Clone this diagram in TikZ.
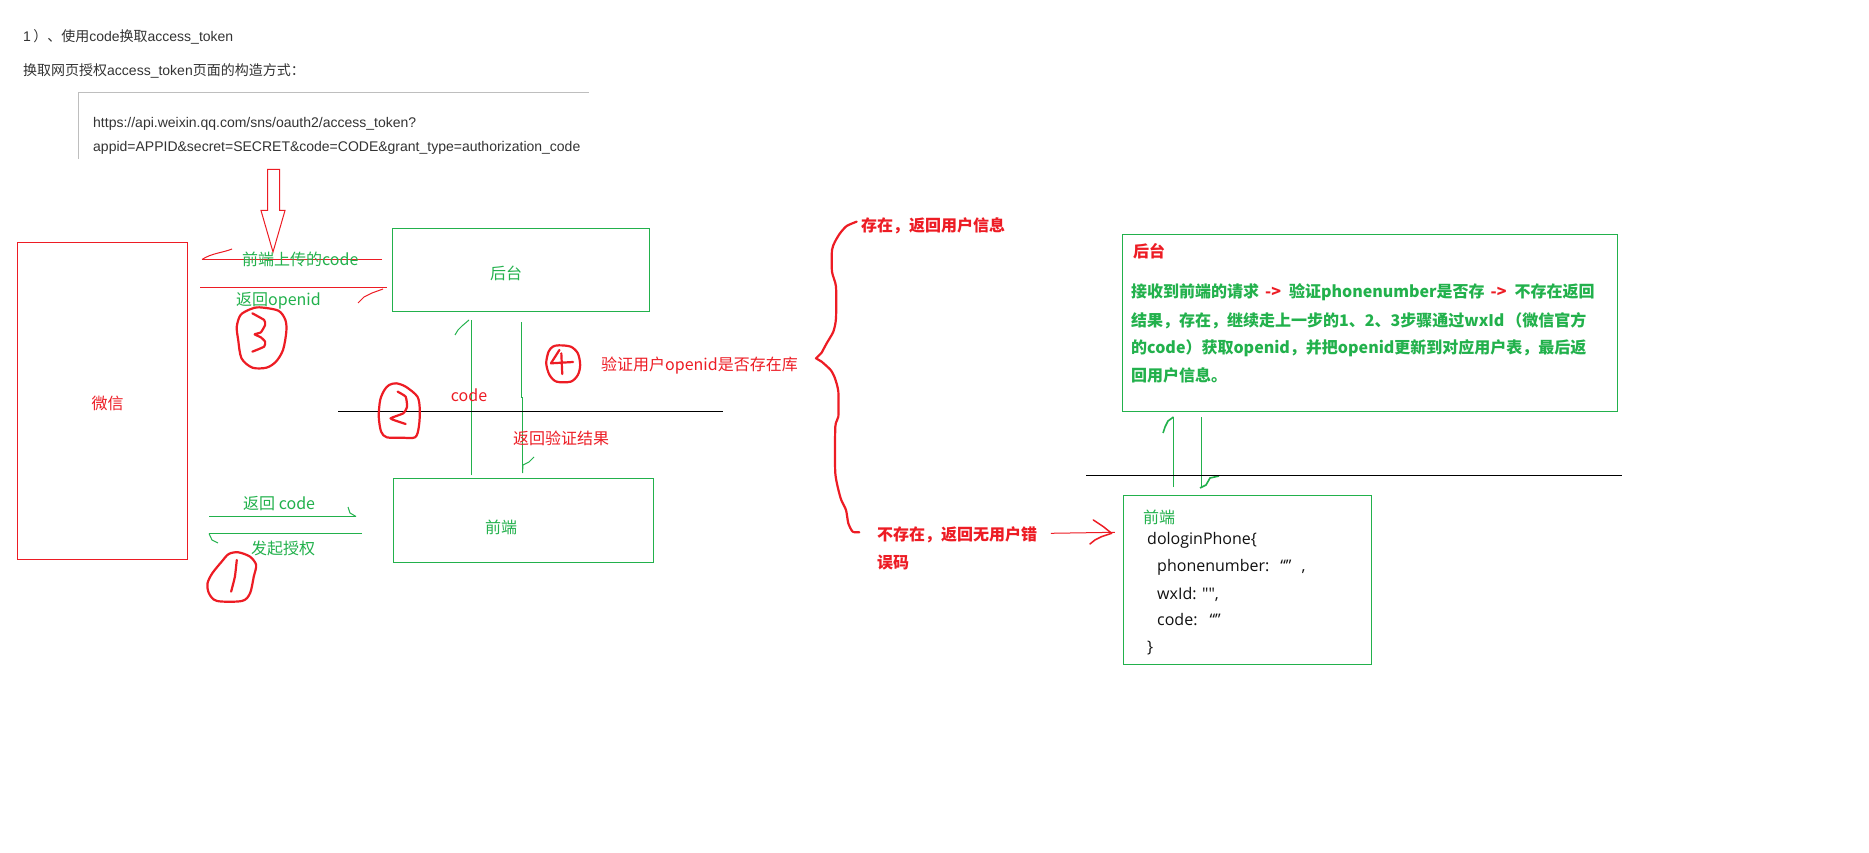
\documentclass[tikz,border=0pt]{standalone}
\usepackage{fontspec}
\setmainfont{Noto Sans CJK SC}
\newfontfamily\arial{Liberation Sans}
\newfontfamily\cjkf{Noto Sans CJK SC}
\newfontfamily\opensans{Open Sans}
\definecolor{pgreen}{HTML}{22B14C}
\definecolor{pred}{HTML}{ED1C24}
\definecolor{dgrey}{HTML}{333333}
\definecolor{lgrey}{HTML}{BEBEBE}
\definecolor{navytext}{HTML}{111111}
\tikzset{
  x=1pt,y=-1pt,
  lbl/.style={inner sep=0pt,anchor=west,yshift=-1.5pt,font=\fontsize{16}{16}\selectfont},
  glbl/.style={lbl,text=pgreen},
  rlbl/.style={lbl,text=pred},
  rbold/.style={lbl,text=pred,font=\fontsize{16}{16}\selectfont\bfseries},
  gbold/.style={lbl,text=pgreen,font=\fontsize{16}{16}\selectfont\bfseries},
  toptext/.style={inner sep=0pt,anchor=west,yshift=-1pt,text=dgrey,font=\arial\fontsize{14}{14}\selectfont},
  codetext/.style={inner sep=0pt,anchor=west,yshift=-2pt,text=navytext,font=\opensans\fontsize{16}{16}\selectfont},
  gbox/.style={draw=pgreen,line width=1pt,inner sep=0pt,outer sep=0pt,anchor=north west},
  rbox/.style={draw=pred,line width=1pt,inner sep=0pt,outer sep=0pt,anchor=north west},
  gline/.style={draw=pgreen,line width=1pt},
  rline/.style={draw=pred,line width=1pt},
  kline/.style={draw=black,line width=1pt},
  gtick/.style={draw=pgreen,line width=1pt},
  gthick/.style={draw=pgreen,line width=1.6pt},
  rtick/.style={draw=pred,line width=1pt},
  pen/.style={draw=pred,line width=2.2pt,line join=round,line cap=round},
  crop2/.style={shift={(0,300)},x=0.4717pt,y=-0.3333pt},
  crop3/.style={shift={(740,190)},x=0.3333pt,y=-0.3333pt},
}
\begin{document}
\begin{tikzpicture}
\useasboundingbox (0,0) rectangle (1869,853);
\fill[white] (0,0) rectangle (1869,853);

% --- top text
\node[toptext] (t1) at (23,36) {1\,{\cjkf ）、使用}code{\cjkf 换取}access\_token};
\node[toptext] (t2) at (23,70) {{\cjkf 换取网页授权}access\_token{\cjkf 页面的构造方式：}};
\coordinate (qa) at (78.5,159); \coordinate (qb) at (78.5,92.5); \coordinate (qc) at (589,92.5);
\draw[lgrey,line width=1pt] (qa) -- (qb) -- (qc);
\node[toptext] (u1) at (93,123) {https://api.weixin.qq.com/sns/oauth2/access\_token?};
\node[toptext] (u2) at (93,147) {appid=APPID\&secret=SECRET\&code=CODE\&grant\_type=authorization\_code};

% --- block arrow
\draw[rline] (267.5,169.5) -- (279.5,169.5) -- (279.5,210.5) -- (285,210.5) -- (273,252) -- (261,210.5) -- (267.5,210.5) -- cycle;

% --- boxes
\node[rbox,minimum width=170pt,minimum height=317pt] (wx) at (17.5,242.5) {};
\node[rlbl,anchor=center] (wxt) at (107.5,402) {微信};
\node[gbox,minimum width=257pt,minimum height=83pt] (back) at (392.5,228.5) {};
\node[glbl,anchor=center] (backt) at (506,272) {后台};
\node[gbox,minimum width=260pt,minimum height=84pt] (front) at (393.5,478.5) {};
\node[glbl,anchor=center] (frontt) at (501,526) {前端};
\node[gbox,minimum width=495pt,minimum height=177pt] (back2) at (1122.5,234.5) {};
\node[gbox,minimum width=248pt,minimum height=169pt] (front2) at (1123.5,495.5) {};

% --- connectors top-left
\coordinate (a1) at (382,259.5); \coordinate (a2) at (202,259.5);
\draw[rline] (a1) -- (a2);
\draw[rtick] (a2) .. controls (212,253) and (222,253) .. (232,249);
\coordinate (b1) at (200,287.5); \coordinate (b2) at (387,287.5);
\draw[rline] (b1) -- (b2);
\draw[rtick] (383,289) -- (372,293) -- (364,297) -- (358,303);
\node[glbl] (l1) at (242,258) {前端上传的code};
\node[glbl] (l2) at (236,299) {返回openid};

% --- vertical connectors
\coordinate (c1) at (471.5,475); \coordinate (c2) at (471.5,320);
\draw[gline] (c1) -- (c2);
\draw[gtick] (469,320) -- (462,326) -- (458,330) -- (455,335);
\coordinate (d1) at (521.5,322); \coordinate (d2) at (521.5,397); \coordinate (d3) at (522.5,397); \coordinate (d4) at (522.5,473);
\draw[gline] (d1) -- (d2) -- (d3) -- (d4);
\draw[gtick] (d4) -- (523,465) -- (529,462) -- (534,457);
\coordinate (k1) at (338,411.5); \coordinate (k2) at (723,411.5);
\draw[kline] (k1) -- (k2);
\node[rlbl,anchor=center] (code) at (469,394) {code};
\node[rlbl] (verifyres) at (513,437) {返回验证结果};
\node[rlbl] (verify) at (601,364.5) {验证用户openid是否存在库};

% --- bottom-left connectors
\node[glbl] (l3) at (243,502) {返回 code};
\coordinate (e1) at (209,516.5); \coordinate (e2) at (356,516.5);
\draw[gline] (e1) -- (e2);
\draw[gtick] (e2) -- (350,513) -- (348,507);
\coordinate (f1) at (362,533.5); \coordinate (f2) at (209,533.5);
\draw[gline] (f1) -- (f2);
\draw[gtick] (f2) -- (212,540) -- (218,543);
\node[glbl] (l4) at (251,547) {发起授权};

% --- pen circles (crop-2 coordinates)
\begin{scope}[crop2]
\draw[pen] plot[smooth cycle,tension=0.5] coordinates {(550,22)(590,32)(605,60)(607,95)(600,150)(585,185)(565,203)(535,203)(512,175)(505,120)(502,80)(510,45)(530,28)};
\draw[pen] plot[smooth,tension=0.3] coordinates {(535,40)(560,60)(562,75)(553,97)(540,103)(553,112)(562,125)(560,140)(535,155)};
\draw[pen] plot[smooth cycle,tension=0.5] coordinates {(840,250)(860,260)(885,290)(890,330)(888,380)(880,412)(850,413)(820,412)(808,395)(803,350)(806,300)(815,270)(825,255)};
\draw[pen] plot[smooth,tension=0.3] coordinates {(843,275)(860,290)(863,320)(855,340)(828,355)(845,365)(860,372)};
\draw[pen] plot[smooth cycle,tension=0.5] coordinates {(1185,136)(1210,140)(1225,160)(1230,195)(1225,225)(1210,245)(1180,245)(1165,225)(1158,190)(1163,155)(1172,140)};
\draw[pen] (1186,150) -- (1168,190) -- (1215,186);
\draw[pen] (1190,160) -- (1192,222);
\draw[pen] plot[smooth cycle,tension=0.5] coordinates {(505,757)(530,770)(543,795)(538,830)(530,880)(513,903)(460,903)(443,880)(440,850)(450,820)(470,785)(485,762)};
\draw[pen] plot[smooth,tension=0.3] coordinates {(502,780)(498,830)(490,875)};
\end{scope}

% --- brace and arrow (crop-3 coordinates)
\begin{scope}[crop3]
\draw[pen] plot[smooth,tension=0.4] coordinates {(350,95)(320,108)(300,130)(285,155)(276,180)(276,245)(288,290)(288,385)(280,425)(260,460)(245,488)};
\draw[pen] (245,488) -- (228,505) -- (245,515);
\draw[pen] plot[smooth,tension=0.4] coordinates {(245,515)(272,540)(285,565)(295,605)(295,680)(286,710)(286,850)(302,925)(318,960)(325,1000)(338,1025)(358,1027)};
\coordinate (g1) at (933,1030); \coordinate (g2) at (1125,1027);
\draw[rline] (g1) -- (g2);
\draw[pen,line width=1.5pt] (1060,990) -- (1090,1010) -- (1115,1030) -- (1085,1040) -- (1065,1050) -- (1050,1062);
\end{scope}

\node[rbold] (yes) at (861,224) {存在，返回用户信息};
\node[rbold] (no1) at (877,533) {不存在，返回无用户错};
\node[rbold] (no2) at (877,561) {误码};

% --- right back box content
\node[rbold] (b2t) at (1133,250) {后台};
\node[gbold] (bl1) at (1131,291) {接收到前端的请求\hspace{6pt}{\color{pred}->}\hspace{8pt}验证phonenumber是否存\hspace{6pt}{\color{pred}->}\hspace{8pt}不存在返回};
\node[gbold] (bl2) at (1131,319) {结果，存在，继续走上一步的1、2、3步骤通过wxId\hspace{2pt}（微信官方};
\node[gbold] (bl3) at (1131,347) {的code）获取openid，并把openid更新到对应用户表，最后返};
\node[gbold] (bl4) at (1131,374) {回用户信息。};

% --- right connectors
\coordinate (h1) at (1173.5,487); \coordinate (h2) at (1173.5,417);
\draw[gline] (h1) -- (h2);
\draw[gthick] (h2) -- (1168,421) -- (1165,427) -- (1163,433);
\coordinate (i1) at (1201.5,417); \coordinate (i2) at (1201.5,487);
\draw[gline] (i1) -- (i2);
\draw[gthick] (1200,488) -- (1206,485) -- (1210,478) -- (1219,476);
\coordinate (m1) at (1086,475.5); \coordinate (m2) at (1622,475.5);
\draw[kline] (m1) -- (m2);

% --- right front box content
\node[glbl] (f2t) at (1143,516) {前端};
\node[codetext] (c0) at (1147,538) {dologinPhone\{};
\node[codetext] (c3) at (1157,565) {phonenumber:\hspace{11pt}“”\hspace{10pt},};
\node[codetext] (c4) at (1157,592) {wxId: "",};
\node[codetext] (c5) at (1157,618) {code:\hspace{12pt}“”};
\node[codetext] (c6) at (1147,646) {\}};
\end{tikzpicture}
\end{document}
